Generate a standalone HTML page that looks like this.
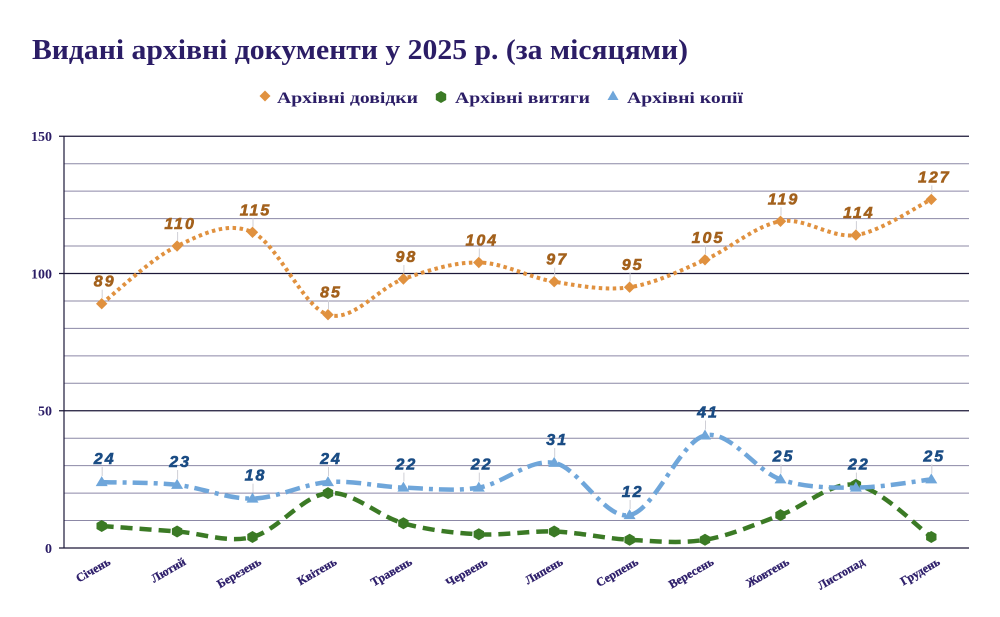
<!DOCTYPE html>
<html><head><meta charset="utf-8"><style>
html,body{margin:0;padding:0;background:#fff;}
svg{display:block;}
.t{font-family:"Liberation Serif","Noto Serif CJK SC",serif;font-weight:bold;fill:#2b1d66;}
.ax{font-family:"Liberation Serif",serif;font-weight:bold;fill:#2b1d66;font-size:14px;}
.xl{font-family:"Liberation Serif",serif;font-weight:bold;fill:#2e1f6b;font-size:12px;stroke:#2e1f6b;stroke-width:0.3;}
.lo{font-family:"Liberation Sans",sans-serif;font-weight:bold;font-style:italic;font-size:16px;fill:#a3611c;stroke:#a3611c;stroke-width:0.6;letter-spacing:2px;text-anchor:middle;}
.lb{font-family:"Liberation Sans",sans-serif;font-weight:bold;font-style:italic;font-size:16px;fill:#1a4c84;stroke:#1a4c84;stroke-width:0.6;letter-spacing:2px;text-anchor:middle;}
</style></head><body>
<svg width="1000" height="617" viewBox="0 0 1000 617" xmlns="http://www.w3.org/2000/svg">
<rect width="1000" height="617" fill="#fff"/>
<text class="t" x="32" y="59" font-size="28" textLength="656" lengthAdjust="spacingAndGlyphs">Видані архівні документи у 2025 р. (за місяцями)</text>
<!-- legend -->
<polygon points="265,90.5 270.5,96 265,101.5 259.5,96" fill="#e0913f"/>
<text class="t" x="277" y="103" font-size="16" textLength="141" lengthAdjust="spacingAndGlyphs">Архівні довідки</text>
<polygon points="441,91 446.2,94 446.2,100 441,103 435.8,100 435.8,94" fill="#3b7a25"/>
<text class="t" x="455" y="103" font-size="16" textLength="135" lengthAdjust="spacingAndGlyphs">Архівні витяги</text>
<polygon points="613,90.5 618.5,100 607.5,100" fill="#6fa6da"/>
<text class="t" x="627" y="103" font-size="16" textLength="116" lengthAdjust="spacingAndGlyphs">Архівні копії</text>
<!-- minor gridlines -->
<g stroke="#8c88a6" stroke-width="1">
<line x1="64" x2="969" y1="520.55" y2="520.55"/>
<line x1="64" x2="969" y1="493.1" y2="493.1"/>
<line x1="64" x2="969" y1="465.65" y2="465.65"/>
<line x1="64" x2="969" y1="438.2" y2="438.2"/>
<line x1="64" x2="969" y1="383.3" y2="383.3"/>
<line x1="64" x2="969" y1="355.85" y2="355.85"/>
<line x1="64" x2="969" y1="328.4" y2="328.4"/>
<line x1="64" x2="969" y1="300.95" y2="300.95"/>
<line x1="64" x2="969" y1="246.05" y2="246.05"/>
<line x1="64" x2="969" y1="218.6" y2="218.6"/>
<line x1="64" x2="969" y1="191.15" y2="191.15"/>
<line x1="64" x2="969" y1="163.7" y2="163.7"/>
</g>
<!-- major gridlines -->
<g stroke="#1c1838" stroke-width="1.2">
<line x1="59" x2="969" y1="136.25" y2="136.25"/>
<line x1="59" x2="969" y1="273.5" y2="273.5"/>
<line x1="59" x2="969" y1="410.75" y2="410.75"/>
<line x1="59" x2="969" y1="548" y2="548"/>
<line x1="64" x2="64" y1="136.25" y2="548"/>
</g>
<text class="ax" x="52" y="141" text-anchor="end">150</text>
<text class="ax" x="52" y="278.5" text-anchor="end">100</text>
<text class="ax" x="52" y="415.5" text-anchor="end">50</text>
<text class="ax" x="52" y="553" text-anchor="end">0</text>
<!-- x labels -->
<g class="xl" text-anchor="end">
<text transform="translate(111.2,564) rotate(-30)">Січень</text>
<text transform="translate(186.6,564) rotate(-30)">Лютий</text>
<text transform="translate(262,564) rotate(-30)">Березень</text>
<text transform="translate(337.5,564) rotate(-30)">Квітень</text>
<text transform="translate(412.9,564) rotate(-30)">Травень</text>
<text transform="translate(488.3,564) rotate(-30)">Червень</text>
<text transform="translate(563.7,564) rotate(-30)">Липень</text>
<text transform="translate(639.1,564) rotate(-30)">Серпень</text>
<text transform="translate(714.5,564) rotate(-30)">Вересень</text>
<text transform="translate(790,564) rotate(-30)">Жовтень</text>
<text transform="translate(865.4,564) rotate(-30)">Листопад</text>
<text transform="translate(940.8,564) rotate(-30)">Грудень</text>
</g>
<!-- leader lines -->
<g stroke="#cfcfd6" stroke-width="1">
<line x1="102.2" x2="102.2" y1="289.7" y2="298"/>
<line x1="177.6" x2="177.6" y1="232" y2="240.5"/>
<line x1="253" x2="253" y1="218.3" y2="226.8"/>
<line x1="328.5" x2="328.5" y1="300.7" y2="309"/>
<line x1="403.9" x2="403.9" y1="265" y2="273.5"/>
<line x1="479.3" x2="479.3" y1="248.5" y2="257"/>
<line x1="554.7" x2="554.7" y1="267.7" y2="276"/>
<line x1="630.1" x2="630.1" y1="273.2" y2="281.5"/>
<line x1="705.5" x2="705.5" y1="245.8" y2="254"/>
<line x1="781" x2="781" y1="207.3" y2="215.5"/>
<line x1="856.4" x2="856.4" y1="221.1" y2="229.5"/>
<line x1="931.8" x2="931.8" y1="185.4" y2="193.5"/>
<line x1="102.2" x2="102.2" y1="467" y2="476"/>
<line x1="177.6" x2="177.6" y1="470" y2="479"/>
<line x1="253" x2="253" y1="483.6" y2="492.5"/>
<line x1="328.5" x2="328.5" y1="467" y2="476"/>
<line x1="403.9" x2="403.9" y1="472.6" y2="481.5"/>
<line x1="479.3" x2="479.3" y1="472.6" y2="481.5"/>
<line x1="554.7" x2="554.7" y1="448" y2="457"/>
<line x1="630.1" x2="630.1" y1="500" y2="509"/>
<line x1="705.5" x2="705.5" y1="420.5" y2="429.5"/>
<line x1="781" x2="781" y1="464.4" y2="473.4"/>
<line x1="856.4" x2="856.4" y1="472.6" y2="481.5"/>
<line x1="931.8" x2="931.8" y1="464.4" y2="473.4"/>
</g>
<!-- orange series -->
<path fill="none" stroke="#e0913f" stroke-width="4" stroke-dasharray="3.5 3.5" d="M101.7,303.7 C114.27,294.09 151.96,257.95 177.1,246.05 C202.24,234.15 227.36,220.86 252.5,232.3 C277.64,243.74 302.86,306.92 328,314.7 C353.14,322.48 378.26,287.7 403.4,279 C428.54,270.3 453.66,262.05 478.8,262.5 C503.94,262.95 529.06,277.58 554.2,281.7 C579.34,285.82 604.46,290.85 629.6,287.2 C654.74,283.55 679.86,270.78 705,259.8 C730.14,248.82 755.36,225.42 780.5,221.3 C805.64,217.18 830.76,238.75 855.9,235.1 C881.04,231.45 918.73,205.35 931.3,199.4"/>
<g fill="#e0913f">
<polygon points="101.7,298 107.4,303.7 101.7,309.4 96,303.7"/>
<polygon points="177.1,240.35 182.8,246.05 177.1,251.75 171.4,246.05"/>
<polygon points="252.5,226.6 258.2,232.3 252.5,238 246.8,232.3"/>
<polygon points="328,309 333.7,314.7 328,320.4 322.3,314.7"/>
<polygon points="403.4,273.3 409.1,279 403.4,284.7 397.7,279"/>
<polygon points="478.8,256.8 484.5,262.5 478.8,268.2 473.1,262.5"/>
<polygon points="554.2,276 559.9,281.7 554.2,287.4 548.5,281.7"/>
<polygon points="629.6,281.5 635.3,287.2 629.6,292.9 623.9,287.2"/>
<polygon points="705,254.1 710.7,259.8 705,265.5 699.3,259.8"/>
<polygon points="780.5,215.6 786.2,221.3 780.5,227 774.8,221.3"/>
<polygon points="855.9,229.4 861.6,235.1 855.9,240.8 850.2,235.1"/>
<polygon points="931.3,193.7 937,199.4 931.3,205.1 925.6,199.4"/>
</g>
<!-- green series -->
<path fill="none" stroke="#3b7a25" stroke-width="4.5" stroke-dasharray="12 7" d="M101.7,526 C114.27,526.92 151.96,529.67 177.1,531.5 C202.24,533.33 227.36,543.4 252.5,537 C277.64,530.6 302.86,495.38 328,493.1 C353.14,490.82 378.26,516.43 403.4,523.3 C428.54,530.17 453.66,532.93 478.8,534.3 C503.94,535.67 529.06,530.58 554.2,531.5 C579.34,532.42 604.46,538.42 629.6,539.8 C654.74,541.18 679.86,543.92 705,539.8 C730.14,535.68 755.36,524.25 780.5,515.1 C805.64,505.95 830.76,481.25 855.9,484.9 C881.04,488.55 918.73,528.32 931.3,537"/>
<g fill="#3b7a25">
<polygon points="101.7,520 106.9,523 106.9,529 101.7,532 96.5,529 96.5,523"/>
<polygon points="177.1,525.5 182.3,528.5 182.3,534.5 177.1,537.5 171.9,534.5 171.9,528.5"/>
<polygon points="252.5,531 257.7,534 257.7,540 252.5,543 247.3,540 247.3,534"/>
<polygon points="328,487.1 333.2,490.1 333.2,496.1 328,499.1 322.8,496.1 322.8,490.1"/>
<polygon points="403.4,517.3 408.6,520.3 408.6,526.3 403.4,529.3 398.2,526.3 398.2,520.3"/>
<polygon points="478.8,528.3 484,531.3 484,537.3 478.8,540.3 473.6,537.3 473.6,531.3"/>
<polygon points="554.2,525.5 559.4,528.5 559.4,534.5 554.2,537.5 549,534.5 549,528.5"/>
<polygon points="629.6,533.8 634.8,536.8 634.8,542.8 629.6,545.8 624.4,542.8 624.4,536.8"/>
<polygon points="705,533.8 710.2,536.8 710.2,542.8 705,545.8 699.8,542.8 699.8,536.8"/>
<polygon points="780.5,509.1 785.7,512.1 785.7,518.1 780.5,521.1 775.3,518.1 775.3,512.1"/>
<polygon points="855.9,478.9 861.1,481.9 861.1,487.9 855.9,490.9 850.7,487.9 850.7,481.9"/>
<polygon points="931.3,531 936.5,534 936.5,540 931.3,543 926.1,540 926.1,534"/>
</g>
<!-- blue series -->
<path fill="none" stroke="#6fa6da" stroke-width="4.5" stroke-dasharray="15 6 4 6" d="M101.7,482.1 C114.27,482.57 151.96,482.15 177.1,484.9 C202.24,487.65 227.36,499.07 252.5,498.6 C277.64,498.13 302.86,483.93 328,482.1 C353.14,480.27 378.26,486.68 403.4,487.6 C428.54,488.52 453.66,491.72 478.8,487.6 C503.94,483.48 529.06,458.32 554.2,462.9 C579.34,467.48 604.46,519.67 629.6,515.1 C654.74,510.53 679.86,441.45 705,435.5 C730.14,429.55 755.36,470.72 780.5,479.4 C805.64,488.08 830.76,487.6 855.9,487.6 C881.04,487.6 918.73,480.77 931.3,479.4"/>
<g fill="#6fa6da">
<polygon points="101.7,476.1 107.7,486.1 95.7,486.1"/>
<polygon points="177.1,478.9 183.1,488.9 171.1,488.9"/>
<polygon points="252.5,492.6 258.5,502.6 246.5,502.6"/>
<polygon points="328,476.1 334,486.1 322,486.1"/>
<polygon points="403.4,481.6 409.4,491.6 397.4,491.6"/>
<polygon points="478.8,481.6 484.8,491.6 472.8,491.6"/>
<polygon points="554.2,456.9 560.2,466.9 548.2,466.9"/>
<polygon points="629.6,509.1 635.6,519.1 623.6,519.1"/>
<polygon points="705,429.5 711,439.5 699,439.5"/>
<polygon points="780.5,473.4 786.5,483.4 774.5,483.4"/>
<polygon points="855.9,481.6 861.9,491.6 849.9,491.6"/>
<polygon points="931.3,473.4 937.3,483.4 925.3,483.4"/>
</g>
<!-- orange labels -->
<text class="lo" x="104.7" y="286.7">89</text>
<text class="lo" x="180.1" y="229">110</text>
<text class="lo" x="255.5" y="215.3">115</text>
<text class="lo" x="331" y="297.7">85</text>
<text class="lo" x="406.4" y="262">98</text>
<text class="lo" x="481.8" y="245.5">104</text>
<text class="lo" x="557.2" y="264.7">97</text>
<text class="lo" x="632.6" y="270.2">95</text>
<text class="lo" x="708" y="242.8">105</text>
<text class="lo" x="783.5" y="204.3">119</text>
<text class="lo" x="858.9" y="218.1">114</text>
<text class="lo" x="934.3" y="182.4">127</text>
<!-- blue labels -->
<text class="lb" x="104.7" y="464.1">24</text>
<text class="lb" x="180.1" y="466.9">23</text>
<text class="lb" x="255.5" y="480.6">18</text>
<text class="lb" x="331" y="464.1">24</text>
<text class="lb" x="406.4" y="469.6">22</text>
<text class="lb" x="481.8" y="469.6">22</text>
<text class="lb" x="557.2" y="444.9">31</text>
<text class="lb" x="632.6" y="497.1">12</text>
<text class="lb" x="708" y="417.5">41</text>
<text class="lb" x="783.5" y="461.4">25</text>
<text class="lb" x="858.9" y="469.6">22</text>
<text class="lb" x="934.3" y="461.4">25</text>
</svg>
</body></html>
